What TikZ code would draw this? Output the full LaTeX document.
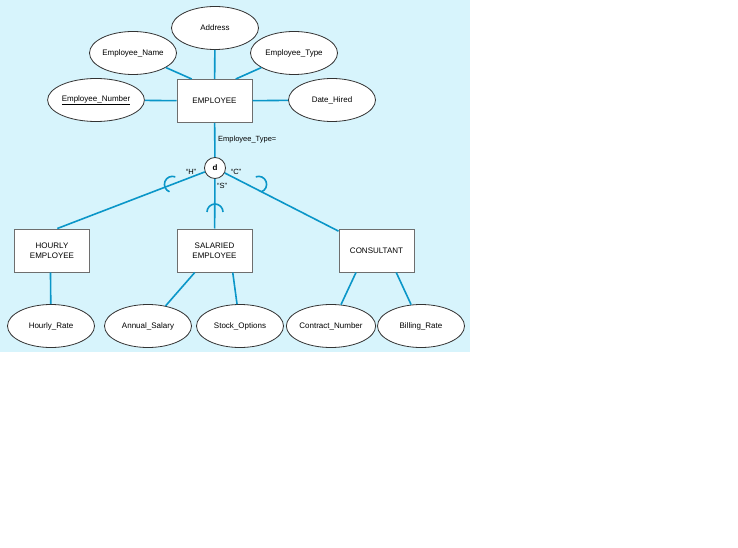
\documentclass[tikz,border=0pt]{standalone}
\usepackage{fontspec}
\setmainfont{Liberation Sans}
\usetikzlibrary{calc,shapes.geometric}
\definecolor{bgc}{RGB}{215,244,252}
\definecolor{lnc}{RGB}{10,150,200}
\definecolor{rc}{RGB}{110,110,110}
\begin{document}
\begin{tikzpicture}[x=1pt,y=-1pt,
  attr/.style={ellipse,draw=black!80,fill=white,line width=0.8pt,minimum width=87pt,minimum height=43pt,inner sep=0pt,font=\fontsize{8}{9}\selectfont},
  ent/.style={rectangle,draw=rc,fill=white,line width=1pt,minimum width=75pt,minimum height=43pt,align=center,inner sep=0pt,font=\fontsize{8}{10}\selectfont},
  conn/.style={draw=lnc,line width=1.6pt},
  lbl/.style={font=\fontsize{7.5}{9}\selectfont,inner sep=1pt}]
\useasboundingbox (0,0) rectangle (738,548);
\fill[bgc] (0,0) rectangle (470,352);
% superclass
\node[ent] (emp) at (214.5,101) {EMPLOYEE};
\node[attr] (addr) at (215,28) {Address};
\node[attr] (ename) at (133,53) {Employee\_Name};
\node[attr] (etype) at (294,53) {Employee\_Type};
\node[attr] (enum) at (96,100) {\underline{Employee\_Number}};
\node[attr] (dhired) at (332,100) {Date\_Hired};
\draw[conn] (addr) -- (emp);
\draw[conn] (ename) -- ($(emp.north west)!0.2!(emp.north east)$);
\draw[conn] (etype) -- ($(emp.north west)!0.78!(emp.north east)$);
\draw[conn] (enum) -- (emp);
\draw[conn] (dhired) -- (emp);
% disjoint circle
\node[circle,draw=black!80,fill=white,line width=0.8pt,minimum size=21pt,inner sep=0pt,font=\fontsize{8}{9}\selectfont\bfseries] (d) at (215,168) {d};
\draw[conn] (emp) -- (d);
\node[lbl,anchor=west] (lt) at (217,140) {Employee\_Type=};
\node[lbl] (lh) at (191,172) {``H''};
\node[lbl] (lc) at (236,172) {``C''};
\node[lbl] (ls) at (222,186) {``S''};
% subclasses
\node[ent] (hour) at (52,250.5) {HOURLY\\EMPLOYEE};
\node[ent] (sal) at (214.5,250.5) {SALARIED\\EMPLOYEE};
\node[ent] (cons) at (376.5,250.5) {CONSULTANT};
\coordinate (ht) at ($(hour.north west)!0.57!(hour.north east)$);
\draw[conn] (d) -- (ht);
\draw[conn] (d) -- (sal);
\draw[conn] (d) -- (cons);
% subset symbols
\draw[conn] ($(d)!0.27!(ht)$) ++(111.2:8) arc[start angle=111.2,end angle=291.2,radius=8];
\draw[conn] ($(d)!0.27!(cons.north)$) ++(249.25:8) arc[start angle=249.25,end angle=429.25,radius=8];
\draw[conn] (215,212) ++(180:8) arc[start angle=180,end angle=360,radius=8];
% subclass attributes
\node[attr] (hr) at (51,326) {Hourly\_Rate};
\node[attr] (as) at (148,326) {Annual\_Salary};
\node[attr] (so) at (240,326) {Stock\_Options};
\node[attr] (cn) at (331,326) {Contract\_Number};
\node[attr] (br) at (421,326) {Billing\_Rate};
\draw[conn] ($(hour.south west)!0.48!(hour.south east)$) -- (hr);
\draw[conn] ($(sal.south west)!0.24!(sal.south east)$) -- (as);
\draw[conn] ($(sal.south west)!0.74!(sal.south east)$) -- (so);
\draw[conn] ($(cons.south west)!0.23!(cons.south east)$) -- (cn);
\draw[conn] ($(cons.south west)!0.76!(cons.south east)$) -- (br);
\end{tikzpicture}
\end{document}
